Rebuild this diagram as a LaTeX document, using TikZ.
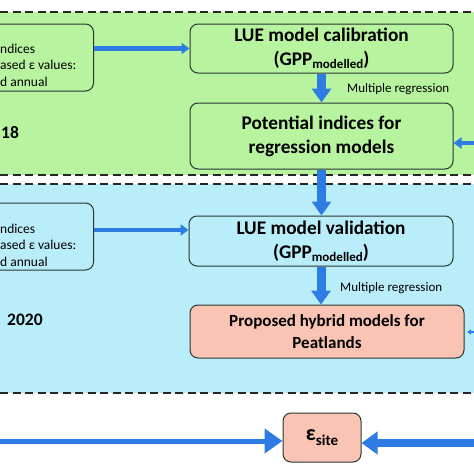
\documentclass[tikz,border=0pt]{standalone}
\usepackage{fontspec}
\setmainfont{Carlito}
\usetikzlibrary{arrows.meta}

\definecolor{calibgreen}{RGB}{184,243,160}
\definecolor{validblue}{RGB}{186,237,250}
\definecolor{hybridpink}{RGB}{249,196,180}
\definecolor{flowblue}{RGB}{44,124,228}
\definecolor{edgegray}{RGB}{40,55,50}

\tikzset{
  stagebox/.style={draw=edgegray, line width=1pt, rounded corners=8pt, align=center,
    inner sep=2pt, font=\bfseries\fontsize{19.3}{24}\selectfont},
  inputbox/.style={draw=edgegray, line width=1pt, rounded corners=8pt, minimum width=110pt,
    minimum height=67pt, anchor=east},
  inputtext/.style={align=left, anchor=west, inner sep=0pt, font=\fontsize{13.5}{16.5}\selectfont},
  yearlabel/.style={inner sep=0pt, anchor=west, font=\bfseries\fontsize{17.5}{20}\selectfont},
  steplabel/.style={anchor=west, inner sep=0pt, font=\fontsize{13}{15}\selectfont},
  sectionline/.style={line width=2.5pt, black!85, dash pattern=on 8pt off 4.5pt},
  feedarrow/.style={draw=flowblue, line width=4.5pt, -{Triangle[length=8pt,width=11pt]}},
  downarrow/.style={draw=flowblue, line width=9pt, -{Triangle[length=14pt,width=19pt]}}
}

\begin{document}
\begin{tikzpicture}[x=1pt, y=-1pt]
  \useasboundingbox (0,0) rectangle (474,474);
  \clip (0,0) rectangle (474,474);

  % calibration and validation periods
  \fill[calibgreen] (0,12) rectangle (474,175);
  \fill[validblue] (0,184) rectangle (474,393);
  \draw[sectionline] (0,12) -- (474,12);
  \draw[sectionline] (0,175) -- (474,175);
  \draw[sectionline] (0,184) -- (474,184);
  \draw[sectionline] (0,393) -- (474,393);

  % input boxes, cut off at the left
  \node[inputbox] (inputA) at (94,57.5) {};
  \node[inputtext] (inputAtext) at (0,65) {ndices\\ased ε values:\\d annual};
  \node[inputbox] (inputB) at (94,236.5) {};
  \node[inputtext] (inputBtext) at (0,245) {ndices\\ased ε values:\\d annual};

  % years
  \node[yearlabel] (yearA) at (1,133) {18};
  \node[yearlabel] (yearB) at (7,320) {2020};

  % model steps
  \node[stagebox, minimum width=263pt, minimum height=49pt] (calib) at (321.5,48.5)
    {LUE model calibration\\(GPP\raisebox{-0.35ex}{\fontsize{13}{13}\selectfont modelled})};
  \node[stagebox, minimum width=263pt, minimum height=66pt] (indices) at (321.5,136)
    {Potential indices for\\regression models};
  \node[stagebox, minimum width=264pt, minimum height=50pt] (valid) at (321,241)
    {LUE model validation\\(GPP\raisebox{-0.35ex}{\fontsize{13}{13}\selectfont modelled})};
  \node[stagebox, fill=hybridpink, minimum width=274pt, minimum height=53pt,
    font=\bfseries\fontsize{17}{22}\selectfont] (hybrid) at (327,331.5)
    {Proposed hybrid models for\\Peatlands};
  \node[stagebox, fill=hybridpink, minimum width=78pt, minimum height=49pt,
    font=\bfseries\fontsize{22}{22}\selectfont] (esite) at (322,437.5)
    {ε\raisebox{-0.45ex}{\fontsize{15}{15}\selectfont site}};

  % free ends at the picture border
  \coordinate (feedA) at (474,143);
  \coordinate (feedB) at (474,332);
  \coordinate (stubB) at (467,332);
  \coordinate (leftE) at (0,441);
  \coordinate (rightE) at (474,443);

  % arrows
  \draw[feedarrow] (inputA.east |- calib.west) -- (calib.west);
  \draw[feedarrow] (inputB.east |- 0,230) -- (valid.west |- 0,230);
  \draw[downarrow] (calib.south) -- (calib.south |- indices.north);
  \draw[downarrow] (indices.south) -- (indices.south |- valid.north);
  \draw[downarrow] (valid.south) -- (valid.south |- hybrid.north);
  \draw[feedarrow] (feedA) -- (indices.east |- feedA);
  \draw[draw=flowblue, line width=1.5pt, -{Triangle[length=4pt,width=5pt]}] (feedB) -- (stubB);
  \draw[draw=flowblue, line width=5pt, -{Triangle[length=18pt,width=24pt]}] (leftE) -- (esite.west |- leftE);
  \draw[draw=flowblue, line width=8pt, -{Triangle[length=16pt,width=22pt]}] (rightE) -- (esite.east |- rightE);

  % regression labels
  \node[steplabel] (regA) at (347,89) {Multiple regression};
  \node[steplabel] (regB) at (340,288) {Multiple regression};
\end{tikzpicture}
\end{document}
